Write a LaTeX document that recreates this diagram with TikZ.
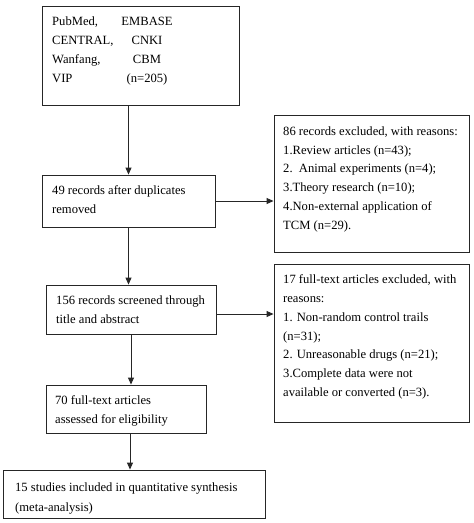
\documentclass[tikz,border=0pt]{standalone}
\usepackage{fontspec}
\setmainfont{Liberation Serif}
\usetikzlibrary{arrows.meta}
\tikzset{
  box/.style={draw=black!85, line width=0.9pt, inner sep=0pt, fill=white},
  txt/.style={anchor=north west, inner sep=0pt, align=left, font=\fontsize{12.6}{18.8}\selectfont},
  arr/.style={draw=black!85, line width=0.9pt, -{Triangle[length=7pt,width=6pt]}}
}
\begin{document}
\begin{tikzpicture}[x=1pt,y=-1pt]
\useasboundingbox[fill=white] (0,0) rectangle (474,523);
% boxes
\node[box, minimum width=197pt, minimum height=99pt] (b1) at (140.5,55.5) {};
\node[box, minimum width=173pt, minimum height=52pt] (b2) at (128.5,201) {};
\node[box, minimum width=195pt, minimum height=137pt] (bA) at (371.5,183.5) {};
\node[box, minimum width=170pt, minimum height=49pt] (b3) at (131,309.5) {};
\node[box, minimum width=195pt, minimum height=158pt] (bB) at (371.5,343) {};
\node[box, minimum width=160pt, minimum height=48pt] (b4) at (126,409) {};
\node[box, minimum width=262pt, minimum height=48pt] (b5) at (134,494) {};
% texts
\node[txt, font=\fontsize{12.6}{19}\selectfont] (t1a) at (52,16.6) {PubMed,\\CENTRAL,\\Wanfang,\\VIP};
\node[txt, anchor=north, align=center, font=\fontsize{12.6}{19}\selectfont] (t1b) at (147,16.6) {EMBASE\\CNKI\\CBM\\(n=205)};
\node[txt] (t2) at (52,185.6) {49 records after duplicates\\removed};
\node[txt] (tA) at (283,126.3) {86 records excluded, with reasons:\\1.Review articles (n=43);\\2.~~Animal experiments (n=4);\\3.Theory research (n=10);\\4.Non-external application of\\TCM (n=29).};
\node[txt] (t3) at (56,295.6) {156 records screened through\\title and abstract};
\node[txt] (tB) at (283,274.6) {17 full-text articles excluded, with\\reasons:\\1. Non-random control trails\\(n=31);\\2. Unreasonable drugs (n=21);\\3.Complete data were not\\available or converted (n=3).};
\node[txt] (t4) at (55,395.6) {70 full-text articles\\assessed for eligibility};
\node[txt, font=\fontsize{12.6}{19.8}\selectfont] (t5) at (15,482.6) {15 studies included in quantitative synthesis\\(meta-analysis)};
% arrows
\draw[arr] (b2.north |- b1.south) -- (b2.north);
\draw[arr] (b2.east) -- (b2.east -| bA.west);
\draw[arr] (b2.south) -- (b2.south |- b3.north);
\draw[arr] ([yshift=-4.5pt]b3.east) -- ([yshift=-4.5pt]b3.east -| bB.west);
\draw[arr] (b3.south) -- (b3.south |- b4.north);
\draw[arr] ([xshift=4pt]b4.south) -- ([xshift=4pt]b4.south |- b5.north);
\end{tikzpicture}
\end{document}
